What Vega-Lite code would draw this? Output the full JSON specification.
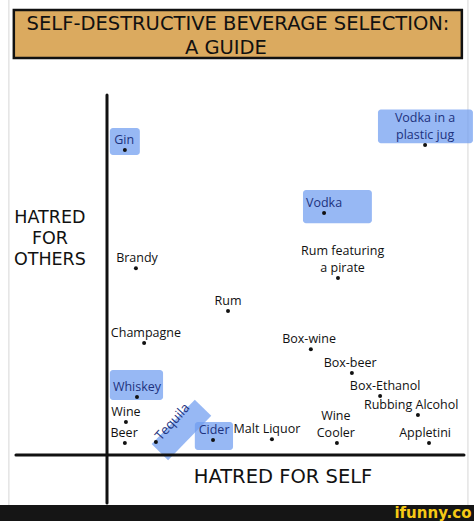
{
  "$schema": "https://vega.github.io/schema/vega-lite/v6.json",
  "width": 357,
  "height": 360,
  "autosize": {"type": "none"},
  "padding": {"left": 107, "top": 95, "right": 10, "bottom": 66},
  "background": "white",
  "config": {"view": {"stroke": null}},
  "datasets": {
    "drinks": [
      {"name": "Gin", "label": "Gin", "x": 0.50, "y": 8.47, "lx": 0.48, "hl": true},
      {"name": "Vodka in a plastic jug", "label": "Vodka in a\nplastic jug", "x": 8.91, "y": 8.61, "lx": 8.91, "hl": true},
      {"name": "Vodka", "label": "Vodka", "x": 6.08, "y": 6.72, "lx": 6.08, "hl": true},
      {"name": "Brandy", "label": "Brandy", "x": 0.81, "y": 5.19, "lx": 0.84, "hl": false},
      {"name": "Rum featuring a pirate", "label": "Rum featuring\na pirate", "x": 6.47, "y": 4.92, "lx": 6.6, "hl": false},
      {"name": "Rum", "label": "Rum", "x": 3.39, "y": 4.0, "lx": 3.39, "hl": false},
      {"name": "Champagne", "label": "Champagne", "x": 1.04, "y": 3.11, "lx": 1.09, "hl": false},
      {"name": "Box-wine", "label": "Box-wine", "x": 5.71, "y": 2.94, "lx": 5.66, "hl": false},
      {"name": "Box-beer", "label": "Box-beer", "x": 6.86, "y": 2.28, "lx": 6.81, "hl": false},
      {"name": "Box-Ethanol", "label": "Box-Ethanol", "x": 7.65, "y": 1.64, "lx": 7.79, "hl": false},
      {"name": "Rubbing Alcohol", "label": "Rubbing Alcohol", "x": 8.71, "y": 1.11, "lx": 8.52, "hl": false},
      {"name": "Whiskey", "label": "Whiskey", "x": 0.84, "y": 1.61, "lx": 0.84, "hl": true},
      {"name": "Wine", "label": "Wine", "x": 0.53, "y": 0.92, "lx": 0.53, "hl": false},
      {"name": "Beer", "label": "Beer", "x": 0.50, "y": 0.33, "lx": 0.48, "hl": false},
      {"name": "Tequila", "label": "Tequila", "x": 1.37, "y": 0.36, "lx": 1.37, "hl": true},
      {"name": "Cider", "label": "Cider", "x": 2.97, "y": 0.42, "lx": 3.0, "hl": true},
      {"name": "Malt Liquor", "label": "Malt Liquor", "x": 4.62, "y": 0.44, "lx": 4.48, "hl": false},
      {"name": "Wine Cooler", "label": "Wine\nCooler", "x": 6.44, "y": 0.33, "lx": 6.41, "hl": false},
      {"name": "Appletini", "label": "Appletini", "x": 9.02, "y": 0.33, "lx": 8.91, "hl": false}
    ],
    "highlights": [
      {"item": "Gin", "x": 0.08, "x2": 0.92, "y": 9.08, "y2": 8.33},
      {"item": "Vodka in a plastic jug", "x": 7.59, "x2": 10.25, "y": 9.6, "y2": 8.66},
      {"item": "Vodka", "x": 5.49, "x2": 7.42, "y": 7.36, "y2": 6.44},
      {"item": "Whiskey", "x": 0.08, "x2": 1.57, "y": 2.36, "y2": 1.53},
      {"item": "Cider", "x": 2.46, "x2": 3.53, "y": 0.92, "y2": 0.14}
    ],
    "tequilaBand": [
      {"item": "Tequila", "x": 1.48, "y": 0.08, "x2": 2.69, "y2": 1.31}
    ],
    "axes": [
      {"axis": "Hatred for self", "x": -2.55, "x2": 10.0, "y": 0, "y2": 0},
      {"axis": "Hatred for others", "x": 0, "x2": 0, "y": -1.33, "y2": 10.0}
    ],
    "edges": [
      {"x": -2.75, "x2": -2.75, "y": -1.39, "y2": 12.64},
      {"x": 10.11, "x2": 10.11, "y": -1.39, "y2": 12.64}
    ],
    "titleBox": [
      {"x": -2.61, "x2": 9.94, "y": 12.36, "y2": 11.03}
    ],
    "titleText": [
      {"text": "SELF-DESTRUCTIVE BEVERAGE SELECTION:", "x": 3.67, "y": 11.97},
      {"text": "A GUIDE", "x": 3.33, "y": 11.31}
    ],
    "axisTitles": [
      {"which": "y", "text": "HATRED\nFOR\nOTHERS", "x": -1.6, "y": 6.58},
      {"which": "x", "text": "HATRED FOR SELF", "x": 4.93, "y": -0.61}
    ],
    "footer": [
      {"x": -3.0, "x2": 10.28, "y": -1.39, "y2": -1.9}
    ],
    "watermark": [
      {"text": "ifunny.co", "x": 9.13, "y": -1.62}
    ]
  },
  "encoding": {
    "x": {"field": "x", "type": "quantitative", "scale": {"domain": [0, 10], "nice": false, "zero": false}, "axis": null},
    "y": {"field": "y", "type": "quantitative", "scale": {"domain": [0, 10], "nice": false, "zero": false}, "axis": null}
  },
  "layer": [
    {
      "data": {"name": "edges"},
      "mark": {"type": "rule", "color": "#e4e4e4", "strokeWidth": 1.5},
      "encoding": {"x2": {"field": "x2"}, "y2": {"field": "y2"}}
    },
    {
      "data": {"name": "titleBox"},
      "mark": {"type": "rect", "fill": "#DBAA5F", "stroke": "#111111", "strokeWidth": 2.5},
      "encoding": {"x2": {"field": "x2"}, "y2": {"field": "y2"}}
    },
    {
      "data": {"name": "titleText"},
      "mark": {"type": "text", "font": "DejaVu Sans", "fontSize": 19.5, "color": "#111111", "align": "center", "baseline": "middle"},
      "encoding": {"text": {"field": "text"}}
    },
    {
      "data": {"name": "highlights"},
      "mark": {"type": "rect", "fill": "#6f9cf0", "opacity": 0.72, "cornerRadius": 3},
      "encoding": {"x2": {"field": "x2"}, "y2": {"field": "y2"}}
    },
    {
      "data": {"name": "tequilaBand"},
      "mark": {"type": "rule", "color": "#6f9cf0", "opacity": 0.72, "strokeWidth": 23},
      "encoding": {"x2": {"field": "x2"}, "y2": {"field": "y2"}}
    },
    {
      "data": {"name": "axes"},
      "mark": {"type": "rule", "color": "#111111", "strokeWidth": 3, "strokeCap": "round"},
      "encoding": {"x2": {"field": "x2"}, "y2": {"field": "y2"}}
    },
    {
      "data": {"name": "drinks"},
      "mark": {"type": "point", "filled": true, "size": 16, "color": "#111111", "opacity": 1},
      "encoding": {"tooltip": {"field": "name"}}
    },
    {
      "data": {"name": "drinks"},
      "transform": [{"filter": "datum.name != 'Tequila' && indexof(datum.label, '\\n') < 0"}],
      "mark": {"type": "text", "font": "Open Sans", "fontSize": 12.5, "align": "center", "baseline": "bottom", "dy": -3},
      "encoding": {
        "x": {"field": "lx", "type": "quantitative"},
        "text": {"field": "label"},
        "color": {"condition": {"test": "datum.hl", "value": "#1d327e"}, "value": "#111111"}
      }
    },
    {
      "data": {"name": "drinks"},
      "transform": [{"filter": "indexof(datum.label, '\\n') >= 0"}],
      "mark": {"type": "text", "font": "Open Sans", "fontSize": 12.5, "align": "center", "baseline": "bottom", "dy": -20, "lineBreak": "\n", "lineHeight": 17},
      "encoding": {
        "x": {"field": "lx", "type": "quantitative"},
        "text": {"field": "label"},
        "color": {"condition": {"test": "datum.hl", "value": "#1d327e"}, "value": "#111111"}
      }
    },
    {
      "data": {"name": "drinks"},
      "transform": [{"filter": "datum.name == 'Tequila'"}],
      "mark": {"type": "text", "font": "Open Sans", "fontSize": 13, "align": "left", "baseline": "middle", "angle": -48, "dx": 4, "dy": -1, "color": "#1d327e"},
      "encoding": {"text": {"field": "label"}}
    },
    {
      "data": {"name": "axisTitles"},
      "transform": [{"filter": "datum.which == 'y'"}],
      "mark": {"type": "text", "font": "DejaVu Sans", "fontSize": 17.5, "align": "center", "baseline": "middle", "lineBreak": "\n", "lineHeight": 21, "color": "#111111"},
      "encoding": {"text": {"field": "text"}}
    },
    {
      "data": {"name": "axisTitles"},
      "transform": [{"filter": "datum.which == 'x'"}],
      "mark": {"type": "text", "font": "DejaVu Sans", "fontSize": 19.5, "align": "center", "baseline": "middle", "color": "#111111"},
      "encoding": {"text": {"field": "text"}}
    },
    {
      "data": {"name": "footer"},
      "mark": {"type": "rect", "fill": "#151515"},
      "encoding": {"x2": {"field": "x2"}, "y2": {"field": "y2"}}
    },
    {
      "data": {"name": "watermark"},
      "mark": {"type": "text", "font": "DejaVu Sans", "fontWeight": "bold", "fontSize": 15, "align": "center", "baseline": "middle", "color": "#F6C915"},
      "encoding": {"text": {"field": "text"}}
    }
  ]
}
